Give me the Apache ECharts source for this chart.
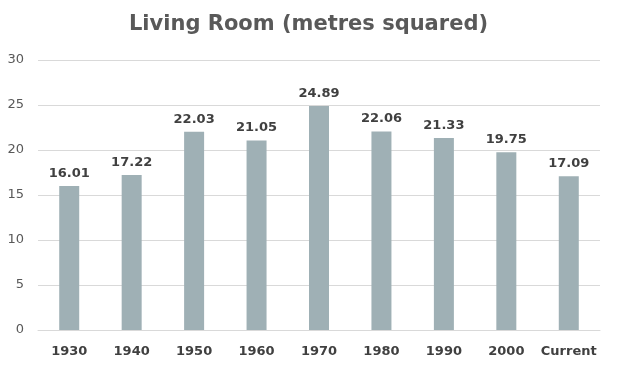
<!DOCTYPE html>
<html><head><meta charset="utf-8">
<script src="https://cdn.jsdelivr.net/npm/echarts@6/dist/echarts.min.js"></script>
<style>html,body{margin:0;padding:0;background:#fff}#c{width:617px;height:369px}</style>
</head><body><div id="c"></div>
<script>
const categories = ['1930','1940','1950','1960','1970','1980','1990','2000','Current'];
const values = [16.01,17.22,22.03,21.05,24.89,22.06,21.33,19.75,17.09];
const chart = echarts.init(document.getElementById('c'));
chart.setOption({
  animation:false,
  title:{text:'Living Room (metres squared)',left:'center',top:9,
    textStyle:{fontFamily:'DejaVu Sans',fontWeight:'bold',fontSize:21,color:'#595959'}},
  grid:{left:38,right:17,top:60,bottom:39},
  xAxis:{type:'category',data:categories,
    axisLine:{lineStyle:{color:'#d9d9d9'}},axisTick:{show:false},
    axisLabel:{interval:0,fontFamily:'DejaVu Sans',fontWeight:'bold',fontSize:13,color:'#404040',margin:15}},
  yAxis:{type:'value',min:0,max:30,interval:5,
    axisLine:{show:false},axisTick:{show:false},
    splitLine:{lineStyle:{color:'#d9d9d9'}},
    axisLabel:{fontFamily:'DejaVu Sans',fontSize:13,color:'#595959',margin:14}},
  series:[{type:'bar',data:values,barWidth:20,itemStyle:{color:'#9FB0B5'},
    label:{show:true,position:'top',distance:6,fontFamily:'DejaVu Sans',fontWeight:'bold',fontSize:13,color:'#404040',
      formatter:p=>p.value.toFixed(2)}}]
});
</script></body></html>
